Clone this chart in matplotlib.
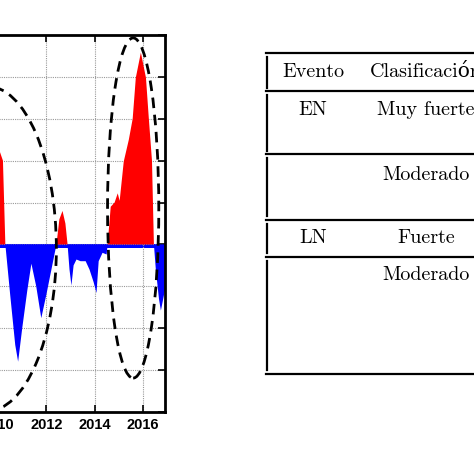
import numpy as np
import matplotlib
matplotlib.use("Agg")
import matplotlib.pyplot as plt
from matplotlib.patches import Ellipse
from matplotlib.lines import Line2D

# index series (year, value)
years = [2009.0, 2009.5, 2009.9, 2010.08, 2010.2, 2010.3, 2010.5, 2010.71, 2010.83, 2011.0,
         2011.21, 2011.38, 2011.58, 2011.79, 2012.0, 2012.21, 2012.42, 2012.54, 2012.67, 2012.79,
         2012.88, 2012.96, 2013.04, 2013.13, 2013.25, 2013.42, 2013.63, 2013.79, 2013.96, 2014.08,
         2014.17, 2014.33, 2014.5, 2014.54, 2014.67, 2014.83, 2014.96, 2015.04, 2015.21, 2015.42,
         2015.58, 2015.71, 2015.92, 2016.13, 2016.25, 2016.38, 2016.42, 2016.46, 2016.54, 2016.67,
         2016.75, 2016.88, 2016.92]
index = [0.6, 1.2, 1.5, 1.1, 1.0, 0.0, -0.6, -1.2, -1.4, -1.0,
         -0.55, -0.23, -0.5, -0.88, -0.6, -0.3, 0.0, 0.3, 0.4, 0.25,
         0.0, -0.3, -0.49, -0.25, -0.18, -0.2, -0.2, -0.3, -0.45, -0.58,
         -0.2, -0.1, -0.12, 0.0, 0.45, 0.5, 0.61, 0.52, 0.99, 1.25,
         1.5, 1.99, 2.29, 1.99, 1.5, 1.0, 0.5, 0.0, -0.3, -0.65,
         -0.79, -0.6, -0.55]

# dashed ellipses: (center x, center y, width, height)
ellipses = [(2009.54, -0.05, 5.75, 3.88), (2015.60, 0.435, 2.125, 4.06)]

xticks = [2010, 2012, 2014, 2016]

# table contents
header = ["Evento", "Clasificación"]
rows = [("EN", "Muy fuerte"), ("", "Moderado"), ("LN", "Fuerte"), ("", "Moderado")]

W = H = 474
fig = plt.figure(figsize=(4.74, 4.74), dpi=100)

def fx(px):
    return px / W

def fy(py):
    return 1 - py / H

# axes placed so the left part falls outside the picture
x0, x1 = 2009.0, 2016.92
left_px = 46 - (2012 - x0) * 24
ax = fig.add_axes([fx(left_px), fy(412), fx(165 - left_px), (412 - 35) / H])

x = np.array(years)
y = np.array(index)
ax.fill_between(x, -0.04, 0, color="#0000ff", lw=0, zorder=0.5)
ax.fill_between(x, y, 0, where=y <= 0, interpolate=True, color="#0000ff", lw=0)
ax.fill_between(x, y, 0, where=y >= 0, interpolate=True, color="#ff0000", lw=0, zorder=2.1)

for cx, cy, w, h in ellipses:
    ax.add_patch(Ellipse((cx, cy), w, h, fill=False, edgecolor="black", lw=2.0,
                         linestyle=(0, (3.8, 2.4)), clip_on=False, zorder=3))

ax.set_xlim(x0, x1)
ax.set_ylim(-2, 2.5)
ax.set_xticks(xticks)
ax.set_yticks(np.arange(-2, 2.51, 0.5))
ax.grid(True, color="#999999", linestyle=(0, (1, 1)), lw=0.8)
ax.set_axisbelow(True)
ax.tick_params(direction="in", top=True, right=True, length=5, width=1.2,
               labelsize=10.5, pad=4)
for lab in ax.get_xticklabels():
    lab.set_fontfamily("Liberation Sans")
    lab.set_fontweight("bold")
for s in ax.spines.values():
    s.set_linewidth(2)

# table on the right
serif = ["cmr10", "DejaVu Serif"]
fs = 14.5
rules = [53, 91, 154, 220, 257, 374]
for r in rules:
    fig.add_artist(Line2D([fx(266), fx(480)], [fy(r), fy(r)], color="black", lw=1.6))
bars = [(57, 88), (95, 151), (158, 216), (224, 253), (261, 370)]
for a, b in bars:
    fig.add_artist(Line2D([fx(267), fx(267)], [fy(a), fy(b)], color="black", lw=1.6))

col1, col2 = 313, 426
fig.text(fx(col1), fy(72), header[0], family=serif, fontsize=fs, ha="center", va="center")
fig.text(fx(col2), fy(72), header[1], family=serif, fontsize=fs, ha="center", va="center")
row_y = [110, 175, 238, 275]
for (ev, cl), ry in zip(rows, row_y):
    if ev:
        fig.text(fx(col1), fy(ry), ev, family=serif, fontsize=fs, ha="center", va="center")
    fig.text(fx(col2), fy(ry), cl, family=serif, fontsize=fs, ha="center", va="center")

fig.savefig("out.png", dpi=100)
